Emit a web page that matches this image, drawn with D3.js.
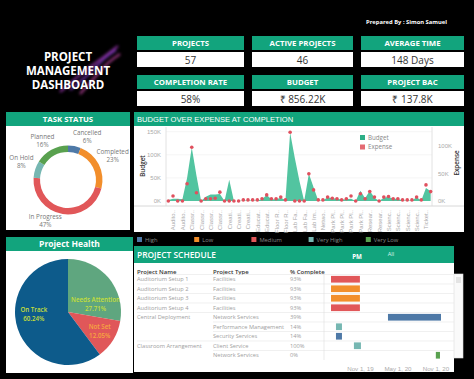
<!DOCTYPE html>
<html>
<head>
<meta charset="utf-8">
<script src="https://cdn.jsdelivr.net/npm/d3@7"></script>
<style>
  body { margin: 0; background: #000; }
  svg { display: block; font-family: "Open Sans", sans-serif; }
</style>
</head>
<body>
<script>
// ---- data ----
const kpiLabels = ["PROJECTS", "ACTIVE PROJECTS", "AVERAGE TIME", "COMPLETION RATE", "BUDGET", "PROJECT BAC"];
const kpiValues = ["57", "46", "148 Days", "58%", "₹ 856.22K", "₹ 137.8K"];

const taskStatus = ["Cancelled", "Completed", "In Progress", "On Hold", "Planned"];
const taskShare = [6, 23, 47, 8, 16];

const healthStatus = ["Needs Attention", "Not Set", "On Track"];
const healthShare = [27.71, 12.05, 60.24];

const projects = [
  "Auditorium Setup 1", "Auditorium Setup 2", "Auditorium Setup 3", "Auditorium Setup 4", "Central Deployment",
  "Classroom Arrangement", "Classroom Audio", "Classroom Cabling", "Classroom Display", "Classroom Lighting",
  "Classroom Projector", "Classroom Seating", "Creative Lab", "Creative Media", "Creative Studio",
  "Creative Suite", "Creative Tools", "Creative Workshop", "Data Center Move", "Education Portal",
  "Education Services", "Educational Media", "Floor Plan Update", "Floor Redesign", "Floor Renovation",
  "Floor Repair", "Lab Equipment", "Lab Facility A", "Lab Facility B", "Lab Facility C",
  "Lab Furniture", "Lab Imaging", "Network Cabling", "Network Upgrade", "Park Place 1",
  "Park Place 2", "Park Place 3", "Park Place 4", "Park Place 5", "Park Place 6",
  "Park Place 7", "Park Place 8", "Research Lab", "Research Portal", "Research Storage",
  "Research Wing", "Science Hall", "Science Lab 1", "Science Lab 2", "Science Lab 3",
  "Science Lab 4", "Science Park", "Science Wing", "Science Works", "Security Audit",
  "Ticketing System", "Ticketing Upgrade"
];
// budget and expense in thousands
const budgetK = [2, 5, 5, 4, 50, 116, 55, 0, 9, 14, 14, 15, 0, 46, 0, 0, 1, 1, 1, 1,
  4, 13, 4, 4, 7, 2, 148, 93, 43, 0, 59, 30, 1, 1, 8, 6, 5, 3, 4, 5,
  0, 22, 6, 22, 7, 0, 7, 9, 5, 5, 1, 1, 1, 8, 1, 28, 21];
const expenseK = [0, 9, 0, 0, 31, 97, 15, 0, 4, 4, 5, 16, 0, 0, 0, 0, 2, 2, 2, 2,
  4, 11, 4, 4, 7, 2, 124, 0, 0, 0, 49, 20, 2, 2, 7, 5, 4, 2, 4, 9,
  0, 13, 4, 17, 7, 0, 7, 8, 4, 4, 2, 2, 2, 7, 2, 29, 17];
// shown tick labels (every other project)
const tickLabels = ["Audito..", "Audito..", "Classr..", "Classr..", "Classr..", "Classr..", "Creati..",
  "Creati..", "Creati..", "Educat..", "Educat..", "Floor R..", "Floor R..", "Lab Fa..", "Lab Fa..",
  "Lab Im..", "Netwo..", "Park Pl..", "Park Pl..", "Park Pl..", "Park Pl..", "Resear..", "Resear..",
  "Scienc..", "Scienc..", "Scienc..", "Scienc..", "Ticket.."];

const priorities = ["High", "Low", "Medium", "Very High", "Very Low"];
const priorityColors = ["#4e79a7", "#f28e2b", "#e15759", "#76b7b2", "#59a14f"];

const schedName = ["Auditorium Setup 1", "Auditorium Setup 2", "Auditorium Setup 3", "Auditorium Setup 4",
  "Central Deployment", "", "", "Classroom Arrangement", ""];
const schedType = ["Facilities", "Facilities", "Facilities", "Facilities", "Network Services",
  "Performance Management", "Security Services", "Client Service", "Network Services"];
const schedPct = ["93%", "93%", "93%", "93%", "39%", "14%", "14%", "100%", "0%"];
const schedStart = ["2019-06-14", "2019-06-14", "2019-06-14", "2019-06-14", "2020-03-16",
  "2019-07-08", "2019-07-08", "2019-10-03", "2020-11-03"];
const schedEnd = ["2019-11-01", "2019-11-01", "2019-11-01", "2019-11-01", "2020-11-28",
  "2019-08-06", "2019-08-06", "2019-11-06", "2020-11-23"];
const schedPriority = ["Medium", "Low", "Low", "Medium", "High", "Very High", "High", "Very High", "Very Low"];

// ---- canvas ----
const W = 474, H = 379;
const GREEN = "#12a47d";
const svg = d3.select("body").append("svg").attr("width", W).attr("height", H);
svg.append("rect").attr("width", W).attr("height", H).attr("fill", "#000");

// little purple glow behind the title
const defs = svg.append("defs");
defs.append("filter").attr("id", "glow").append("feGaussianBlur").attr("stdDeviation", 1.6);
const glow = svg.append("g").attr("filter", "url(#glow)").attr("fill", "none");
const wave = d3.line().curve(d3.curveBasis);
[[[60, 92], [85, 70], [100, 60], [118, 46]],
 [[70, 90], [92, 72], [104, 58], [116, 50]],
 [[80, 94], [96, 76], [108, 62], [120, 54]]].forEach((pts, i) => {
  glow.append("path").attr("d", wave(pts))
    .attr("stroke", ["#b03cc8", "#8a3fd0", "#d04ab0"][i]).attr("stroke-width", 2.2).attr("opacity", 0.75);
});

// title, one line per text
const title = ["PROJECT", "MANAGEMENT", "DASHBOARD"];
svg.append("g").selectAll("text").data(title).join("text")
  .attr("x", 68).attr("y", (d, i) => 61 + i * 14)
  .attr("text-anchor", "middle").attr("fill", "#fff")
  .attr("font-size", 11.5).attr("font-weight", 700).text(d => d);

svg.append("text").attr("x", 447).attr("y", 24).attr("text-anchor", "end")
  .attr("fill", "#fff").attr("font-size", 5.8).attr("font-weight", 700)
  .text("Prepared By : Simon Samuel");

// ---- KPI cards ----
const cardX = [137, 252, 361], cardW = [107, 101, 103], cardY = [36, 75];
const kpi = svg.append("g").selectAll("g").data(kpiLabels).join("g")
  .attr("transform", (d, i) => `translate(${cardX[i % 3]},${cardY[Math.floor(i / 3)]})`);
kpi.append("rect").attr("width", (d, i) => cardW[i % 3]).attr("height", 14).attr("fill", GREEN);
kpi.append("rect").attr("y", 16).attr("width", (d, i) => cardW[i % 3]).attr("height", 15).attr("fill", "#fff");
kpi.append("text").attr("x", (d, i) => cardW[i % 3] / 2).attr("y", 10)
  .attr("text-anchor", "middle").attr("fill", "#fff").attr("font-size", 7.8).attr("font-weight", 700)
  .text(d => d);
kpi.append("text").attr("x", (d, i) => cardW[i % 3] / 2).attr("y", 27.5)
  .attr("text-anchor", "middle").attr("fill", "#333").attr("font-size", 10)
  .text((d, i) => kpiValues[i]);

// helper for panel headers
function header(x, y, w, h, label, opts) {
  svg.append("rect").attr("x", x).attr("y", y).attr("width", w).attr("height", h).attr("fill", GREEN);
  return svg.append("text").attr("x", opts.anchor === "middle" ? x + w / 2 : x + 3)
    .attr("y", y + h / 2 + 3).attr("text-anchor", opts.anchor || "start")
    .attr("fill", "#fff").attr("font-size", opts.size).attr("font-weight", opts.weight || 400)
    .attr("font-family", opts.family || null).text(label);
}

// ---- Task status donut ----
header(6, 112, 124, 14, "TASK STATUS", { anchor: "middle", size: 7.8, weight: 700 });
svg.append("rect").attr("x", 6).attr("y", 126).attr("width", 124).attr("height", 104).attr("fill", "#fff");

const donutG = svg.append("g").attr("transform", "translate(68,180)");
const donutPie = d3.pie().sort(null).value(d => d)(taskShare);
const donutArc = d3.arc().innerRadius(28).outerRadius(34.5);
const donutLabelArc = d3.arc().innerRadius(49).outerRadius(49);
const donutNudge = [[10, 4], [1, -3], [-15, -8], [0, -4], [-2, 3]];
donutG.selectAll("path").data(donutPie).join("path")
  .attr("d", donutArc).attr("fill", (d, i) => priorityColors[i]);
const donutText = donutG.selectAll("text").data(donutPie).join("text")
  .attr("transform", (d, i) => {
    const c = donutLabelArc.centroid(d);
    return `translate(${c[0] + donutNudge[i][0]},${c[1] + donutNudge[i][1]})`;
  })
  .attr("text-anchor", "middle").attr("fill", "#777").attr("font-size", 6.3);
donutText.append("tspan").attr("x", 0).attr("dy", -1).text((d, i) => taskStatus[i]);
donutText.append("tspan").attr("x", 0).attr("dy", 8).text(d => d.data + "%");

// ---- Budget over expense ----
header(134, 112, 330, 14, "BUDGET OVER EXPENSE AT COMPLETION",
  { size: 7.6, family: "Liberation Sans, Arial, sans-serif" });
svg.append("rect").attr("x", 134).attr("y", 126).attr("width", 330).attr("height", 106).attr("fill", "#fff");

const x = d3.scalePoint().domain(projects).range([166, 433]).padding(0.5);
const yB = d3.scaleLinear().domain([0, 150]).range([201, 131.7]);
const yE = d3.scaleLinear().domain([0, 125]).range([201, 131.7]);

const chart = svg.append("g");
chart.selectAll("line.grid").data([50, 100, 150]).join("line").attr("class", "grid")
  .attr("x1", 166).attr("x2", 432).attr("y1", d => yB(d)).attr("y2", d => yB(d))
  .attr("stroke", "#f0f0f0").attr("stroke-width", 0.7);
chart.append("line").attr("x1", 166).attr("x2", 166).attr("y1", 127).attr("y2", 206).attr("stroke", "#e2e2e2");
chart.append("line").attr("x1", 432).attr("x2", 432).attr("y1", 127).attr("y2", 206).attr("stroke", "#e2e2e2");
chart.append("line").attr("x1", 134).attr("x2", 464).attr("y1", 206).attr("y2", 206).attr("stroke", "#d8d8d8");

chart.append("path").datum(budgetK)
  .attr("fill", "#52c4a0")
  .attr("d", d3.area().x((d, i) => x(projects[i])).y0(yB(0)).y1(d => yB(d)));
chart.selectAll("circle").data(expenseK).join("circle")
  .attr("cx", (d, i) => x(projects[i])).attr("cy", d => yE(d)).attr("r", 1.8)
  .attr("fill", "#e0505e");

const axisStyle = g => {
  g.select(".domain").remove();
  g.selectAll("text").attr("fill", "#aaa").attr("font-size", 6);
};
chart.append("g").attr("transform", "translate(164,0)")
  .call(d3.axisLeft(yB).tickValues([0, 50, 100, 150]).tickSize(0).tickFormat(d => d + "K"))
  .call(axisStyle);
chart.append("g").attr("transform", "translate(435,0)")
  .call(d3.axisRight(yE).tickValues([0, 50, 100]).tickSize(0).tickFormat(d => d + "K"))
  .call(axisStyle);

const labelled = projects.filter((d, i) => i % 2 === 1);
chart.append("g").attr("transform", "translate(0,207)")
  .call(d3.axisBottom(x).tickValues(labelled).tickSize(0)
    .tickFormat(d => tickLabels[labelled.indexOf(d)]))
  .call(g => {
    g.select(".domain").remove();
    g.selectAll("text").attr("fill", "#aaa").attr("font-size", 6)
      .attr("text-anchor", "end").attr("transform", "rotate(-90)")
      .attr("x", -3).attr("y", 0).attr("dy", "0.32em");
  });

chart.append("text").attr("transform", "translate(145,166) rotate(-90)").attr("text-anchor", "middle")
  .attr("fill", "#333").attr("font-size", 6.3).attr("font-weight", 600).text("Budget");
chart.append("text").attr("transform", "translate(459,163) rotate(-90)").attr("text-anchor", "middle")
  .attr("fill", "#333").attr("font-size", 6.3).attr("font-weight", 600).text("Expense");

const legend = chart.append("g").attr("transform", "translate(360,135)");
[["Budget", "#2dae86"], ["Expense", "#e46a72"]].forEach(([name, col], i) => {
  legend.append("rect").attr("y", i * 9.5).attr("width", 5).attr("height", 5).attr("fill", col);
  legend.append("text").attr("x", 8).attr("y", i * 9.5 + 4.6).attr("fill", "#888")
    .attr("font-size", 6.2).text(name);
});

// ---- priority legend ----
const pl = svg.append("g").selectAll("g").data(priorities).join("g")
  .attr("transform", (d, i) => `translate(${137 + i * 57.2},237)`);
pl.append("rect").attr("width", 5).attr("height", 5).attr("fill", (d, i) => priorityColors[i]);
pl.append("text").attr("x", 8).attr("y", 4.8).attr("fill", "#888").attr("font-size", 5.8).text(d => d);

// ---- Project health pie ----
header(6, 237, 127, 14, "Project Health", { anchor: "middle", size: 8.5, weight: 700 });
svg.append("rect").attr("x", 6).attr("y", 251).attr("width", 127).attr("height", 122).attr("fill", "#fff");
const healthColors = ["#5fa67f", "#e05759", "#0d5b8b"];
const healthLabelColors = ["#c6df3a", "#f7a63f", "#c6df3a"];
const healthNudge = [[0, 15], [1, 0], [0, -9]];
const pieG = svg.append("g").attr("transform", "translate(68,312)");
const healthPie = d3.pie().sort(null).value(d => d)(healthShare);
pieG.selectAll("path").data(healthPie).join("path")
  .attr("d", d3.arc().innerRadius(0).outerRadius(53)).attr("fill", (d, i) => healthColors[i]);
const pieLabelArc = d3.arc().innerRadius(36).outerRadius(36);
const pt = pieG.selectAll("text").data(healthPie).join("text")
  .attr("transform", (d, i) => {
    const c = pieLabelArc.centroid(d);
    return `translate(${c[0] + healthNudge[i][0]},${c[1] + healthNudge[i][1]})`;
  })
  .attr("text-anchor", "middle").attr("font-size", 6.2).attr("font-weight", 600)
  .attr("fill", (d, i) => healthLabelColors[i]);
pt.append("tspan").attr("x", 0).attr("dy", -2).text((d, i) => healthStatus[i]);
pt.append("tspan").attr("x", 0).attr("dy", 9).text(d => d.data.toFixed(2) + "%");

// ---- Project schedule ----
header(134, 246, 320, 17, "PROJECT SCHEDULE", { size: 8.4, weight: 600 });
svg.append("text").attr("x", 357).attr("y", 258.5).attr("text-anchor", "middle")
  .attr("fill", "#fff").attr("font-size", 6.2).attr("font-weight", 700).text("PM");
svg.append("text").attr("x", 391).attr("y", 255.5).attr("text-anchor", "middle")
  .attr("fill", "#d8f3ea").attr("font-size", 5.8).text("All");
svg.append("rect").attr("x", 134).attr("y", 263).attr("width", 320).attr("height", 109).attr("fill", "#fff");
svg.append("rect").attr("x", 454).attr("y", 274).attr("width", 9).attr("height", 84)
  .attr("fill", "#fafafa").attr("stroke", "#ddd").attr("stroke-width", 0.6);
svg.append("rect").attr("x", 456).attr("y", 277).attr("width", 5).attr("height", 6).attr("fill", "#e4e4e4");

const cols = [137, 213, 290];
svg.append("g").selectAll("text").data(["Project Name", "Project Type", "% Complete"]).join("text")
  .attr("x", (d, i) => cols[i]).attr("y", 273.5).attr("fill", "#333")
  .attr("font-size", 6).attr("font-weight", 600).text(d => d);

const rowY = d3.scaleBand().domain(schedType.map((d, i) => i)).range([274.5, 360]);
const gx = d3.scaleTime().domain([new Date(2019, 4, 11), new Date(2021, 0, 30)]).range([324, 454]);
const parse = d3.timeParse("%Y-%m-%d");

const sched = svg.append("g");
sched.selectAll("line.row").data(schedType).join("line").attr("class", "row")
  .attr("x1", (d, i) => schedName[i] ? 137 : 213).attr("x2", 454)
  .attr("y1", (d, i) => rowY(i)).attr("y2", (d, i) => rowY(i))
  .attr("stroke", "#e6e6e6").attr("stroke-width", 0.6);
sched.append("line").attr("x1", 324).attr("x2", 324).attr("y1", 274).attr("y2", 360)
  .attr("stroke", "#ddd").attr("stroke-width", 0.6);
[schedName, schedType, schedPct].forEach((col, c) => {
  sched.append("g").selectAll("text").data(col).join("text")
    .attr("x", cols[c]).attr("y", (d, i) => rowY(i) + rowY.bandwidth() / 2 + 2.1)
    .attr("fill", "#a0a0a0").attr("font-size", 5.7).text(d => d);
});
sched.selectAll("rect.bar").data(schedStart).join("rect").attr("class", "bar")
  .attr("x", d => gx(parse(d)))
  .attr("width", (d, i) => gx(parse(schedEnd[i])) - gx(parse(d)))
  .attr("y", (d, i) => rowY(i) + 1.4).attr("height", rowY.bandwidth() - 2.8)
  .attr("fill", (d, i) => priorityColors[priorities.indexOf(schedPriority[i])]);
sched.append("g").attr("transform", "translate(0,364)")
  .call(d3.axisBottom(gx).tickValues([new Date(2019, 10, 1), new Date(2020, 4, 1), new Date(2020, 10, 1)])
    .tickSize(0).tickFormat(d3.timeFormat("%b %-d, %y")))
  .call(g => {
    g.select(".domain").remove();
    g.selectAll("text").attr("fill", "#aaa").attr("font-size", 6.2);
  });
</script>
</body>
</html>
